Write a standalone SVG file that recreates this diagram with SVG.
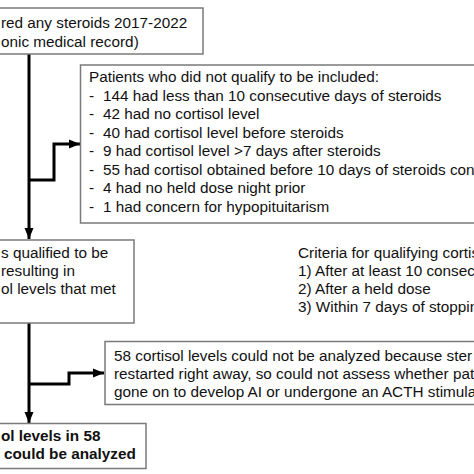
<svg xmlns="http://www.w3.org/2000/svg" width="474" height="474" viewBox="0 0 474 474">
<defs>
<marker id="ah" markerUnits="userSpaceOnUse" markerWidth="12" markerHeight="12" viewBox="0 0 12 12" refX="11" refY="6" orient="auto">
<path d="M0,1.5 L11,6 L0,10.5 Z" fill="#000"/>
</marker>
<style>
.box{fill:#fff;stroke:#7a7a7a;stroke-width:1.5}
.t{font-family:"Liberation Sans",Arial,sans-serif;font-size:15.3px;fill:#111}
.b{font-weight:bold}
.c{fill:none;stroke:#000;stroke-width:3;marker-end:url(#ah)}
</style>
</defs>
<rect width="474" height="474" fill="#fff"/>
<g id="connectors">
<path class="c" d="M29,54 V239"/>
<path class="c" d="M29,180 H54 V144 H80"/>
<path class="c" d="M29,323 V423"/>
<path class="c" d="M29,384 H69 V373 H104"/>
</g>
<g id="n-start">
<rect class="box" x="-10" y="8" width="213" height="46"/>
<text class="t"><tspan x="1" y="28">red any steroids 2017-2022</tspan><tspan x="1" y="47">onic medical record)</tspan></text>
</g>
<g id="n-excluded">
<rect class="box" x="80.5" y="65" width="410" height="158"/>
<text class="t"><tspan x="89" y="82">Patients who did not qualify to be included:</tspan></text>
<text class="t"><tspan x="89" y="100.6">-</tspan><tspan x="103">144 had less than 10 consecutive days of steroids</tspan></text>
<text class="t"><tspan x="89" y="119.1">-</tspan><tspan x="103">42 had no cortisol level</tspan></text>
<text class="t"><tspan x="89" y="137.7">-</tspan><tspan x="103">40 had cortisol level before steroids</tspan></text>
<text class="t"><tspan x="89" y="156.3">-</tspan><tspan x="103">9 had cortisol level &gt;7 days after steroids</tspan></text>
<text class="t"><tspan x="89" y="174.9">-</tspan><tspan x="103">55 had cortisol obtained before 10 days of steroids con</tspan></text>
<text class="t"><tspan x="89" y="193.4">-</tspan><tspan x="103">4 had no held dose night prior</tspan></text>
<text class="t"><tspan x="89" y="212">-</tspan><tspan x="103">1 had concern for hypopituitarism</tspan></text>
</g>
<g id="n-qualified">
<rect class="box" x="-10" y="240" width="144" height="83"/>
<text class="t"><tspan x="1" y="258">s qualified to be</tspan><tspan x="1" y="276">resulting in</tspan><tspan x="1" y="294">ol levels that met</tspan></text>
</g>
<g id="n-criteria">
<text class="t"><tspan x="298" y="258">Criteria for qualifying cortiso</tspan><tspan x="298" y="276">1) After at least 10 consecu</tspan><tspan x="298" y="294">2) After a held dose</tspan><tspan x="298" y="312">3) Within 7 days of stopping</tspan></text>
</g>
<g id="n-not-analyzed">
<rect class="box" x="105" y="341.5" width="400" height="63"/>
<text class="t"><tspan x="114" y="361">58 cortisol levels could not be analyzed because ster</tspan><tspan x="114" y="379">restarted right away, so could not assess whether pat</tspan><tspan x="114" y="397">gone on to develop AI or undergone an ACTH stimula</tspan></text>
</g>
<g id="n-analyzed">
<rect class="box" x="-10" y="423.5" width="156" height="45"/>
<text class="t b"><tspan x="1" y="441">ol levels in 58</tspan><tspan x="4" y="459">could be analyzed</tspan></text>
</g>
</svg>
